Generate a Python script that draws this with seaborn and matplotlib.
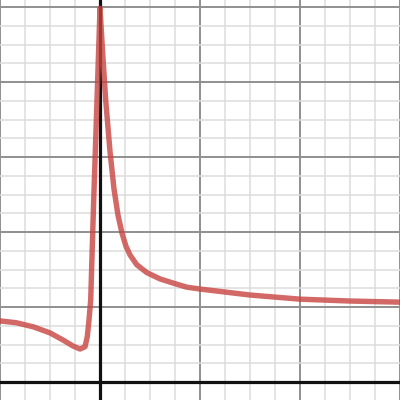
import matplotlib
matplotlib.use('Agg')
import matplotlib.pyplot as plt
import seaborn as sns
import numpy as np
import pandas as pd

# pontos (x, y em unidades do gráfico)
x_vals = [-2.0, -1.67, -1.33, -1.0, -0.74, -0.54, -0.4, -0.3, -0.254, -0.22,
          -0.186, -0.166, -0.146, -0.126, -0.06, 0.0, 0.05, 0.114, 0.2, 0.28,
          0.36, 0.44, 0.52, 0.6, 0.734, 0.934, 1.2, 1.46, 1.734,
          2.0, 3.0, 4.0, 5.0, 6.0]
y_vals = [1.63, 1.58, 1.47, 1.31, 1.12, 0.96, 0.88, 0.94, 1.21, 1.65,
          2.19, 3.07, 3.97, 4.85, 7.52, 9.97, 8.85, 7.52, 6.15, 5.15,
          4.45, 3.97, 3.62, 3.39, 3.13, 2.92, 2.75, 2.64, 2.53,
          2.48, 2.32, 2.21, 2.16, 2.13]

df = pd.DataFrame({'x': x_vals, 'y': y_vals})

sns.set_style('white')
fig = plt.figure(figsize=(4, 4), dpi=100)
ax = fig.add_axes([0, 0, 1, 1])

ax.set_xlim(-2, 6)
ax.set_ylim(-0.48, 10.19)

# grade estilo desmos
ax.set_xticks(np.arange(-2, 6.01, 2))
ax.set_yticks(np.arange(0, 10.01, 2))
ax.set_xticks(np.arange(-2, 6.01, 0.5), minor=True)
ax.set_yticks(np.arange(0, 10.19, 0.5), minor=True)
ax.grid(True, which='minor', color='#dcdcdc', linewidth=1.1)
ax.grid(True, which='major', color='#8f8f8f', linewidth=1.4)
ax.set_axisbelow(True)
ax.tick_params(which='both', length=0, labelbottom=False, labelleft=False)
for s in ax.spines.values():
    s.set_visible(False)

ax.axhline(0, color='#111111', linewidth=2.3, zorder=2)
ax.axvline(0, color='#111111', linewidth=2.3, zorder=2)

sns.lineplot(data=df, x='x', y='y', ax=ax, sort=False, estimator=None,
             color='#c74440', alpha=0.8, linewidth=3.9, zorder=3,
             solid_joinstyle='round', solid_capstyle='round')
ax.set_xlabel('')
ax.set_ylabel('')

fig.savefig('out.png', dpi=100)
